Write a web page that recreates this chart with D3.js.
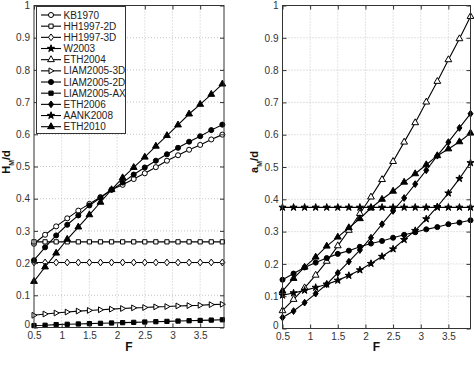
<!DOCTYPE html>
<html><head><meta charset="utf-8">
<script src="https://cdn.jsdelivr.net/npm/d3@7"></script>
<style>body{margin:0;background:#fff}svg{display:block}text{font-family:"Liberation Sans",Arial,sans-serif}</style>
</head><body><svg id="c" width="474" height="365"></svg>
<script>
const F = [0.5,0.7,0.9,1.1,1.3,1.5,1.7,1.9,2.1,2.3,2.5,2.7,2.9,3.1,3.3,3.5,3.7,3.9];
const xTicks = [0.5,1,1.5,2,2.5,3,3.5];
const xTickLabels = ["0.5","1","1.5","2","2.5","3","3.5"];
const yTicks = [0,0.1,0.2,0.3,0.4,0.5,0.6,0.7,0.8,0.9,1];
const yTickLabels = ["0","0.1","0.2","0.3","0.4","0.5","0.6","0.7","0.8","0.9","1"];
const legendNames = ["KB1970","HH1997-2D","HH1997-3D","W2003","ETH2004","LIAM2005-3D","LIAM2005-2D","LIAM2005-AX","ETH2006","AANK2008","ETH2010"];

// Left panel: H_M/d
const hKB1970   = [0.260,0.288,0.314,0.339,0.363,0.384,0.405,0.428,0.443,0.461,0.479,0.498,0.518,0.535,0.552,0.567,0.584,0.599];
const hHH2D     = [0.266,0.266,0.266,0.266,0.266,0.266,0.266,0.266,0.266,0.266,0.266,0.266,0.266,0.266,0.266,0.266,0.266,0.266];
const hHH3D     = [0.202,0.202,0.202,0.202,0.202,0.202,0.202,0.202,0.202,0.202,0.202,0.202,0.202,0.202,0.202,0.202,0.202,0.202];
const hLIAM3D   = [0.038,0.042,0.045,0.048,0.051,0.053,0.055,0.057,0.059,0.061,0.062,0.064,0.065,0.067,0.068,0.069,0.071,0.072];
const hLIAM2D   = [0.209,0.249,0.286,0.319,0.348,0.379,0.403,0.428,0.450,0.475,0.497,0.518,0.538,0.558,0.577,0.594,0.613,0.630];
const hLIAMAX   = [0.006,0.007,0.009,0.010,0.011,0.012,0.013,0.014,0.015,0.016,0.017,0.018,0.019,0.020,0.021,0.022,0.023,0.024];
const hETH2010  = [0.143,0.188,0.231,0.274,0.312,0.350,0.389,0.428,0.465,0.497,0.529,0.563,0.596,0.629,0.663,0.693,0.724,0.756];

// Right panel: a_M/d
const aW2003    = [0.375,0.375,0.375,0.375,0.375,0.375,0.375,0.375,0.375,0.375,0.375,0.375,0.375,0.375,0.375,0.375,0.375,0.375];
const aETH2004  = [0.055,0.090,0.126,0.165,0.208,0.256,0.304,0.356,0.407,0.461,0.517,0.577,0.637,0.701,0.765,0.832,0.897,0.966];
const aLIAM2D   = [0.151,0.170,0.189,0.204,0.218,0.231,0.241,0.253,0.263,0.271,0.281,0.290,0.298,0.307,0.314,0.323,0.328,0.335];
const aETH2006  = [0.034,0.054,0.080,0.108,0.137,0.172,0.207,0.243,0.281,0.323,0.364,0.404,0.447,0.490,0.535,0.577,0.621,0.665];
const aAANK2008 = [0.103,0.110,0.118,0.127,0.137,0.149,0.164,0.181,0.201,0.223,0.246,0.275,0.303,0.339,0.377,0.419,0.464,0.513];
const aETH2010  = [0.116,0.155,0.190,0.221,0.255,0.283,0.312,0.340,0.373,0.400,0.425,0.453,0.479,0.507,0.535,0.556,0.578,0.605];

const markerOf = {
  "KB1970":{t:"circle",fill:false},
  "HH1997-2D":{t:"square",fill:false},
  "HH1997-3D":{t:"diamond",fill:false},
  "W2003":{t:"star",fill:true},
  "ETH2004":{t:"triangle",fill:false},
  "LIAM2005-3D":{t:"rtri",fill:false},
  "LIAM2005-2D":{t:"circle",fill:true},
  "LIAM2005-AX":{t:"square",fill:true},
  "ETH2006":{t:"diamond",fill:true},
  "AANK2008":{t:"star",fill:true},
  "ETH2010":{t:"triangle",fill:true}
};

function markerPath(t){
  if(t==="circle") return d3.symbol(d3.symbolCircle, 20)();
  if(t==="square") return d3.symbol(d3.symbolSquare, 18)();
  if(t==="diamond") return "M0,-3.4L2.5,0L0,3.4L-2.5,0Z";
  if(t==="star") return d3.symbol(d3.symbolStar, 16)();
  if(t==="triangle") return d3.symbol(d3.symbolTriangle, 20)();
  if(t==="rtri") return "M3,0L-2,-2.9L-2,2.9Z";
}

const svg = d3.select("#c");

function panel(cfg){
  const x = d3.scaleLinear().domain(cfg.xd).range(cfg.xr);
  const y = d3.scaleLinear().domain([0,1]).range(cfg.yr);
  const g = svg.append("g");
  const [x0,x1] = cfg.xr, [y0,y1] = cfg.yr;
  // grid
  g.append("g").selectAll("line").data(xTicks.slice(1)).join("line")
    .attr("x1",d=>x(d)).attr("x2",d=>x(d)).attr("y1",y0).attr("y2",y1)
    .attr("stroke","#b8b8b8").attr("stroke-width",0.8).attr("stroke-dasharray","1,2");
  g.append("g").selectAll("line").data(yTicks.slice(1,-1)).join("line")
    .attr("x1",x0).attr("x2",x1).attr("y1",d=>y(d)).attr("y2",d=>y(d))
    .attr("stroke","#b8b8b8").attr("stroke-width",0.8).attr("stroke-dasharray","1,2");
  // series
  const line = d3.line().x((d,i)=>x(F[i])).y(d=>y(d));
  cfg.series.forEach(s=>{
    g.append("path").attr("d",line(s.v)).attr("fill","none").attr("stroke","#000").attr("stroke-width",1.1);
    const m = markerOf[s.name];
    g.append("g").selectAll("path").data(s.v).join("path")
      .attr("d",markerPath(m.t))
      .attr("transform",(d,i)=>`translate(${x(F[i])},${y(d)})`)
      .attr("fill",m.fill?"#000":"#fff").attr("stroke","#000").attr("stroke-width",1);
  });
  // axes with inward ticks
  const ax = d3.axisBottom(x).tickValues(xTicks).tickSize(-4).tickPadding(4).tickFormat((d,i)=>xTickLabels[i]);
  const axT = d3.axisTop(x).tickValues(xTicks).tickSize(-4).tickFormat("");
  const ay = d3.axisLeft(y).tickValues(yTicks).tickSize(-4).tickPadding(4).tickFormat((d,i)=>yTickLabels[i]);
  const ayR = d3.axisRight(y).tickValues(yTicks).tickSize(-4).tickFormat("");
  const style = sel=>{sel.select(".domain").remove(); sel.selectAll("line").attr("stroke","#333");
    sel.selectAll("text").attr("fill","#333").style("font-size","10px").style("font-family","'Liberation Sans',Arial,sans-serif");};
  g.append("g").attr("transform",`translate(0,${y0})`).call(ax).call(style);
  g.append("g").attr("transform",`translate(0,${y1})`).call(axT).call(style);
  const gy = g.append("g").attr("transform",`translate(${x0},0)`).call(ay).call(style);
  gy.selectAll(".tick text").filter(d=>d===0).attr("dy","-0.05em");
  g.append("g").attr("transform",`translate(${x1},0)`).call(ayR).call(style);
  g.append("rect").attr("x",x0).attr("y",y1).attr("width",x1-x0).attr("height",y0-y1)
    .attr("fill","none").attr("stroke","#333").attr("stroke-width",1);
  // labels
  g.append("text").attr("x",(x0+x1)/2).attr("y",351).attr("text-anchor","middle")
    .style("font-size","12px").style("font-weight","bold").attr("fill","#111").text("F");
  const yl = g.append("text").attr("transform",`translate(${cfg.ylx},162) rotate(-90)`)
    .attr("text-anchor","middle").style("font-size","11px").style("font-weight","bold").attr("fill","#111");
  yl.append("tspan").text(cfg.ylab);
  yl.append("tspan").attr("baseline-shift","sub").style("font-size","7px").text("M");
  yl.append("tspan").text("/d");
  return {x,y,g};
}

panel({xd:[0.5,3.93], xr:[34,224], yr:[327.5,5.5], ylab:"H", ylx:10,
  series:[{name:"KB1970",v:hKB1970},{name:"HH1997-2D",v:hHH2D},{name:"HH1997-3D",v:hHH3D},
    {name:"LIAM2005-3D",v:hLIAM3D},{name:"LIAM2005-2D",v:hLIAM2D},{name:"LIAM2005-AX",v:hLIAMAX},{name:"ETH2010",v:hETH2010}]});
panel({xd:[0.5,3.9], xr:[282.5,470.5], yr:[328.5,5.5], ylab:"a", ylx:258,
  series:[{name:"W2003",v:aW2003},{name:"ETH2004",v:aETH2004},{name:"LIAM2005-2D",v:aLIAM2D},
    {name:"ETH2006",v:aETH2006},{name:"AANK2008",v:aAANK2008},{name:"ETH2010",v:aETH2010}]});

// legend
const lg = svg.append("g");
lg.append("rect").attr("x",36.5).attr("y",6.5).attr("width",89).attr("height",127)
  .attr("fill","#fff").attr("stroke","#333").attr("stroke-width",1);
const leg = lg.selectAll("g.e").data(legendNames).join("g").attr("class","e")
  .attr("transform",(d,i)=>`translate(0,${15+i*11.17})`);
leg.append("line").attr("x1",41).attr("x2",61).attr("y1",0).attr("y2",0).attr("stroke","#000").attr("stroke-width",1.1);
leg.append("path").attr("d",d=>markerPath(markerOf[d].t)).attr("transform","translate(51,0)")
  .attr("fill",d=>markerOf[d].fill?"#000":"#fff").attr("stroke","#000").attr("stroke-width",1);
leg.append("text").attr("x",63.5).attr("y",3.6).style("font-size","10px").attr("fill","#222").text(d=>d);
</script></body></html>
